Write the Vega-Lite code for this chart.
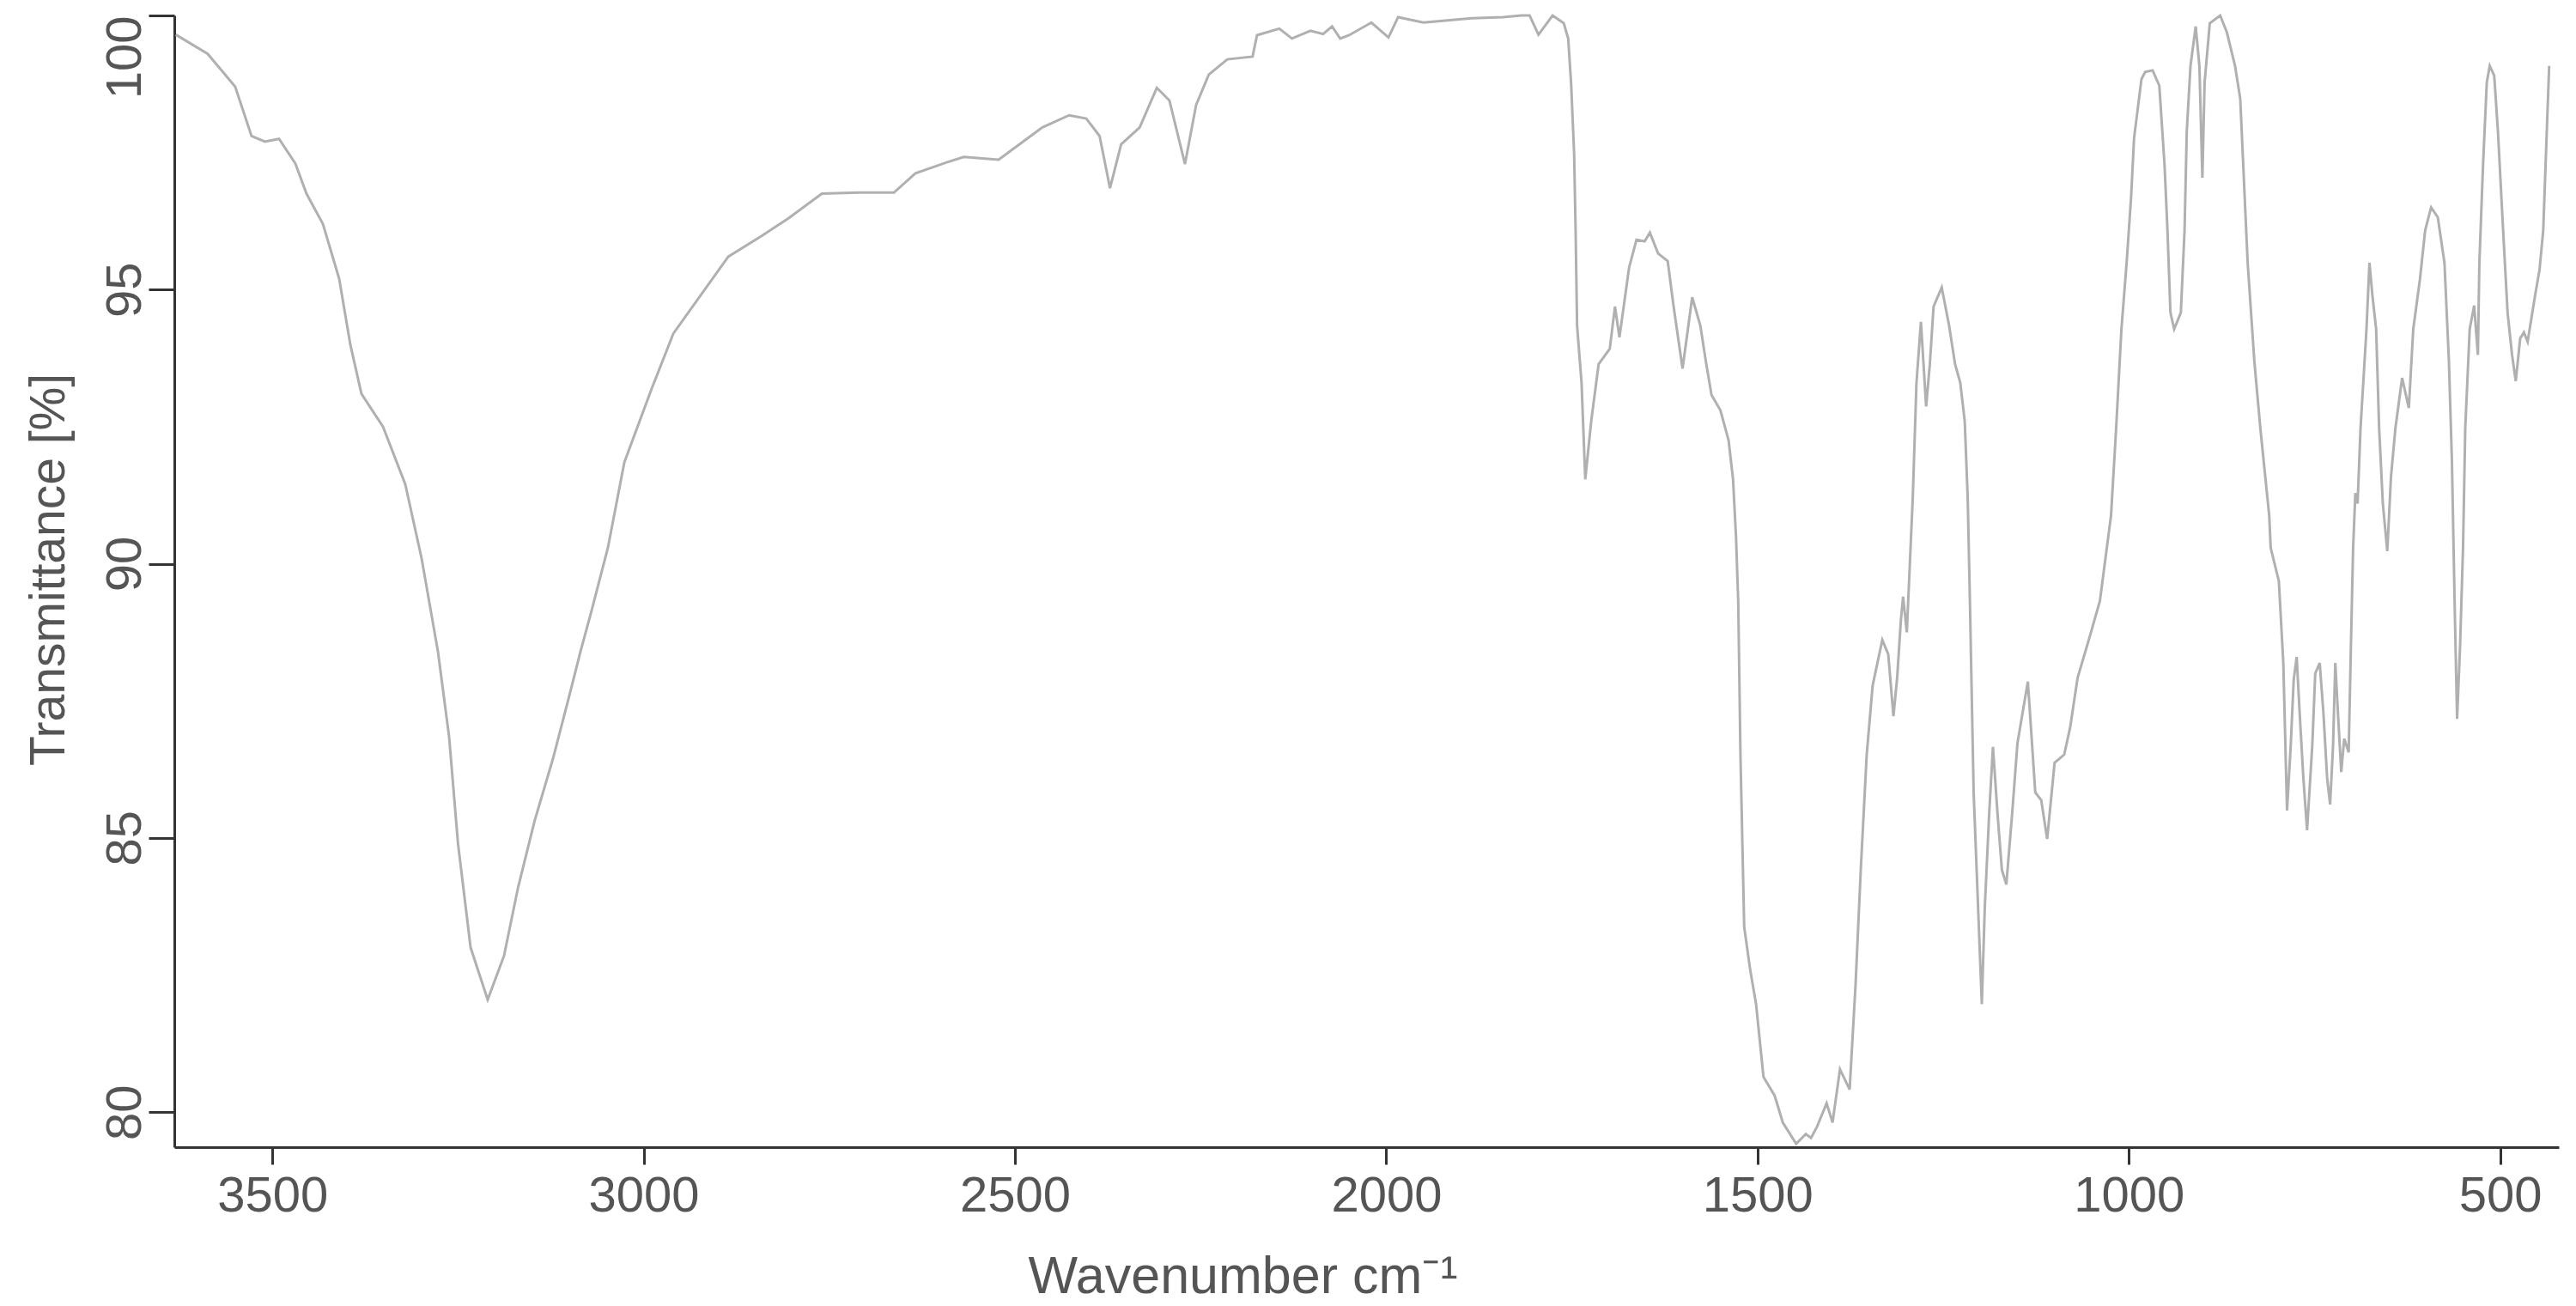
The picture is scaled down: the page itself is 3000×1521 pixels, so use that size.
{
  "$schema": "https://vega.github.io/schema/vega-lite/v6.json",
  "width": 2777,
  "height": 1318,
  "autosize": {"type": "none"},
  "padding": {"left": 203, "top": 18, "right": 20, "bottom": 185},
  "background": "white",
  "config": {"view": {"stroke": null}, "font": "Liberation Sans"},
  "data": {
    "values": [
      {"wavenumber": 3630, "transmittance": 99.65},
      {"wavenumber": 3587, "transmittance": 99.3},
      {"wavenumber": 3550, "transmittance": 98.7},
      {"wavenumber": 3528, "transmittance": 97.8},
      {"wavenumber": 3510, "transmittance": 97.7},
      {"wavenumber": 3491, "transmittance": 97.75},
      {"wavenumber": 3469, "transmittance": 97.3},
      {"wavenumber": 3454, "transmittance": 96.75},
      {"wavenumber": 3432, "transmittance": 96.2},
      {"wavenumber": 3410, "transmittance": 95.2},
      {"wavenumber": 3395, "transmittance": 94.0},
      {"wavenumber": 3380, "transmittance": 93.1},
      {"wavenumber": 3351, "transmittance": 92.5},
      {"wavenumber": 3321, "transmittance": 91.45},
      {"wavenumber": 3299, "transmittance": 90.1},
      {"wavenumber": 3277, "transmittance": 88.4},
      {"wavenumber": 3262, "transmittance": 86.85},
      {"wavenumber": 3250, "transmittance": 84.9},
      {"wavenumber": 3233, "transmittance": 83.0},
      {"wavenumber": 3210, "transmittance": 82.05},
      {"wavenumber": 3188, "transmittance": 82.85},
      {"wavenumber": 3169, "transmittance": 84.1},
      {"wavenumber": 3147, "transmittance": 85.3},
      {"wavenumber": 3122, "transmittance": 86.45},
      {"wavenumber": 3100, "transmittance": 87.6},
      {"wavenumber": 3085, "transmittance": 88.4},
      {"wavenumber": 3070, "transmittance": 89.15},
      {"wavenumber": 3048, "transmittance": 90.3},
      {"wavenumber": 3026, "transmittance": 91.85},
      {"wavenumber": 2989, "transmittance": 93.2},
      {"wavenumber": 2960, "transmittance": 94.2},
      {"wavenumber": 2923, "transmittance": 94.9},
      {"wavenumber": 2886, "transmittance": 95.6},
      {"wavenumber": 2842, "transmittance": 95.97},
      {"wavenumber": 2805, "transmittance": 96.3},
      {"wavenumber": 2760, "transmittance": 96.75},
      {"wavenumber": 2710, "transmittance": 96.77},
      {"wavenumber": 2663, "transmittance": 96.77},
      {"wavenumber": 2634, "transmittance": 97.12},
      {"wavenumber": 2592, "transmittance": 97.32},
      {"wavenumber": 2569, "transmittance": 97.42},
      {"wavenumber": 2522, "transmittance": 97.37},
      {"wavenumber": 2486, "transmittance": 97.73},
      {"wavenumber": 2463, "transmittance": 97.96},
      {"wavenumber": 2427, "transmittance": 98.18},
      {"wavenumber": 2404, "transmittance": 98.12},
      {"wavenumber": 2386, "transmittance": 97.8},
      {"wavenumber": 2372, "transmittance": 96.85},
      {"wavenumber": 2357, "transmittance": 97.65},
      {"wavenumber": 2332, "transmittance": 97.96},
      {"wavenumber": 2309, "transmittance": 98.68},
      {"wavenumber": 2292, "transmittance": 98.45},
      {"wavenumber": 2271, "transmittance": 97.29},
      {"wavenumber": 2256, "transmittance": 98.37},
      {"wavenumber": 2239, "transmittance": 98.92},
      {"wavenumber": 2214, "transmittance": 99.2},
      {"wavenumber": 2180, "transmittance": 99.25},
      {"wavenumber": 2174, "transmittance": 99.64},
      {"wavenumber": 2144, "transmittance": 99.76},
      {"wavenumber": 2127, "transmittance": 99.58},
      {"wavenumber": 2102, "transmittance": 99.72},
      {"wavenumber": 2085, "transmittance": 99.66},
      {"wavenumber": 2073, "transmittance": 99.8},
      {"wavenumber": 2062, "transmittance": 99.58},
      {"wavenumber": 2050, "transmittance": 99.64},
      {"wavenumber": 2020, "transmittance": 99.87},
      {"wavenumber": 1997, "transmittance": 99.6},
      {"wavenumber": 1984, "transmittance": 99.97},
      {"wavenumber": 1950, "transmittance": 99.87},
      {"wavenumber": 1885, "transmittance": 99.95},
      {"wavenumber": 1843, "transmittance": 99.97},
      {"wavenumber": 1818, "transmittance": 100},
      {"wavenumber": 1807, "transmittance": 100},
      {"wavenumber": 1795, "transmittance": 99.65},
      {"wavenumber": 1776, "transmittance": 100},
      {"wavenumber": 1761, "transmittance": 99.86},
      {"wavenumber": 1755, "transmittance": 99.58},
      {"wavenumber": 1751, "transmittance": 98.75},
      {"wavenumber": 1747, "transmittance": 97.48},
      {"wavenumber": 1745, "transmittance": 96.08},
      {"wavenumber": 1743, "transmittance": 94.34},
      {"wavenumber": 1737, "transmittance": 93.3},
      {"wavenumber": 1732, "transmittance": 91.54},
      {"wavenumber": 1724, "transmittance": 92.6},
      {"wavenumber": 1714, "transmittance": 93.64},
      {"wavenumber": 1699, "transmittance": 93.92},
      {"wavenumber": 1692, "transmittance": 94.69},
      {"wavenumber": 1686, "transmittance": 94.13},
      {"wavenumber": 1673, "transmittance": 95.4},
      {"wavenumber": 1663, "transmittance": 95.91},
      {"wavenumber": 1652, "transmittance": 95.88},
      {"wavenumber": 1645, "transmittance": 96.04},
      {"wavenumber": 1634, "transmittance": 95.66},
      {"wavenumber": 1621, "transmittance": 95.52},
      {"wavenumber": 1613, "transmittance": 94.69},
      {"wavenumber": 1601, "transmittance": 93.56},
      {"wavenumber": 1588, "transmittance": 94.86},
      {"wavenumber": 1577, "transmittance": 94.34},
      {"wavenumber": 1569, "transmittance": 93.64},
      {"wavenumber": 1562, "transmittance": 93.08},
      {"wavenumber": 1550, "transmittance": 92.8},
      {"wavenumber": 1539, "transmittance": 92.25},
      {"wavenumber": 1533, "transmittance": 91.54},
      {"wavenumber": 1529, "transmittance": 90.49},
      {"wavenumber": 1526, "transmittance": 89.3},
      {"wavenumber": 1523, "transmittance": 86.5},
      {"wavenumber": 1518, "transmittance": 83.38},
      {"wavenumber": 1510, "transmittance": 82.6},
      {"wavenumber": 1502, "transmittance": 81.97},
      {"wavenumber": 1492, "transmittance": 80.64},
      {"wavenumber": 1477, "transmittance": 80.3},
      {"wavenumber": 1466, "transmittance": 79.81},
      {"wavenumber": 1448, "transmittance": 79.42},
      {"wavenumber": 1435, "transmittance": 79.6},
      {"wavenumber": 1428, "transmittance": 79.53},
      {"wavenumber": 1420, "transmittance": 79.73},
      {"wavenumber": 1407, "transmittance": 80.16},
      {"wavenumber": 1399, "transmittance": 79.81},
      {"wavenumber": 1389, "transmittance": 80.78},
      {"wavenumber": 1376, "transmittance": 80.41},
      {"wavenumber": 1368, "transmittance": 82.33},
      {"wavenumber": 1361, "transmittance": 84.42},
      {"wavenumber": 1353, "transmittance": 86.52},
      {"wavenumber": 1345, "transmittance": 87.78},
      {"wavenumber": 1332, "transmittance": 88.61},
      {"wavenumber": 1324, "transmittance": 88.35},
      {"wavenumber": 1317, "transmittance": 87.22},
      {"wavenumber": 1312, "transmittance": 87.92},
      {"wavenumber": 1307, "transmittance": 88.97},
      {"wavenumber": 1304, "transmittance": 89.4},
      {"wavenumber": 1299, "transmittance": 88.75},
      {"wavenumber": 1291, "transmittance": 91.2},
      {"wavenumber": 1286, "transmittance": 93.3},
      {"wavenumber": 1280, "transmittance": 94.41},
      {"wavenumber": 1273, "transmittance": 92.87},
      {"wavenumber": 1268, "transmittance": 93.64},
      {"wavenumber": 1263, "transmittance": 94.69},
      {"wavenumber": 1252, "transmittance": 95.04},
      {"wavenumber": 1242, "transmittance": 94.34},
      {"wavenumber": 1234, "transmittance": 93.64},
      {"wavenumber": 1227, "transmittance": 93.3},
      {"wavenumber": 1221, "transmittance": 92.6},
      {"wavenumber": 1217, "transmittance": 91.2},
      {"wavenumber": 1214, "transmittance": 89.3},
      {"wavenumber": 1212, "transmittance": 87.9},
      {"wavenumber": 1209, "transmittance": 85.83},
      {"wavenumber": 1203, "transmittance": 83.73},
      {"wavenumber": 1198, "transmittance": 81.97},
      {"wavenumber": 1194, "transmittance": 83.73},
      {"wavenumber": 1188, "transmittance": 85.47},
      {"wavenumber": 1183, "transmittance": 86.66},
      {"wavenumber": 1177, "transmittance": 85.47},
      {"wavenumber": 1171, "transmittance": 84.42},
      {"wavenumber": 1165, "transmittance": 84.15},
      {"wavenumber": 1157, "transmittance": 85.47},
      {"wavenumber": 1150, "transmittance": 86.73},
      {"wavenumber": 1136, "transmittance": 87.85},
      {"wavenumber": 1126, "transmittance": 85.83},
      {"wavenumber": 1118, "transmittance": 85.69},
      {"wavenumber": 1110, "transmittance": 84.98},
      {"wavenumber": 1100, "transmittance": 86.37},
      {"wavenumber": 1087, "transmittance": 86.52},
      {"wavenumber": 1079, "transmittance": 87.02},
      {"wavenumber": 1069, "transmittance": 87.92},
      {"wavenumber": 1054, "transmittance": 88.61},
      {"wavenumber": 1039, "transmittance": 89.32},
      {"wavenumber": 1024, "transmittance": 90.88},
      {"wavenumber": 1017, "transmittance": 92.5},
      {"wavenumber": 1010, "transmittance": 94.28},
      {"wavenumber": 1003, "transmittance": 95.49},
      {"wavenumber": 997, "transmittance": 96.68},
      {"wavenumber": 993, "transmittance": 97.76},
      {"wavenumber": 983, "transmittance": 98.84},
      {"wavenumber": 978, "transmittance": 98.97},
      {"wavenumber": 968, "transmittance": 99.0},
      {"wavenumber": 959, "transmittance": 98.72},
      {"wavenumber": 952, "transmittance": 97.29},
      {"wavenumber": 948, "transmittance": 96.08},
      {"wavenumber": 944, "transmittance": 94.58},
      {"wavenumber": 939, "transmittance": 94.28},
      {"wavenumber": 930, "transmittance": 94.58},
      {"wavenumber": 925, "transmittance": 96.08},
      {"wavenumber": 922, "transmittance": 97.89},
      {"wavenumber": 917, "transmittance": 99.08},
      {"wavenumber": 910, "transmittance": 99.8},
      {"wavenumber": 905, "transmittance": 99.08},
      {"wavenumber": 901, "transmittance": 97.04},
      {"wavenumber": 898, "transmittance": 98.78},
      {"wavenumber": 891, "transmittance": 99.86},
      {"wavenumber": 877, "transmittance": 100},
      {"wavenumber": 868, "transmittance": 99.69},
      {"wavenumber": 857, "transmittance": 99.08},
      {"wavenumber": 850, "transmittance": 98.48},
      {"wavenumber": 844, "transmittance": 96.68},
      {"wavenumber": 840, "transmittance": 95.49},
      {"wavenumber": 831, "transmittance": 93.69},
      {"wavenumber": 823, "transmittance": 92.48},
      {"wavenumber": 811, "transmittance": 90.88},
      {"wavenumber": 809, "transmittance": 90.29},
      {"wavenumber": 798, "transmittance": 89.68},
      {"wavenumber": 792, "transmittance": 88.19},
      {"wavenumber": 787, "transmittance": 85.5},
      {"wavenumber": 782, "transmittance": 86.69},
      {"wavenumber": 778, "transmittance": 87.89},
      {"wavenumber": 774, "transmittance": 88.3},
      {"wavenumber": 770, "transmittance": 87.28},
      {"wavenumber": 765, "transmittance": 86.09},
      {"wavenumber": 760, "transmittance": 85.14},
      {"wavenumber": 753, "transmittance": 86.69},
      {"wavenumber": 749, "transmittance": 88.0},
      {"wavenumber": 743, "transmittance": 88.19},
      {"wavenumber": 738, "transmittance": 87.28},
      {"wavenumber": 733, "transmittance": 86.09},
      {"wavenumber": 729, "transmittance": 85.61},
      {"wavenumber": 725, "transmittance": 86.69},
      {"wavenumber": 722, "transmittance": 88.19},
      {"wavenumber": 718, "transmittance": 87.17},
      {"wavenumber": 714, "transmittance": 86.2},
      {"wavenumber": 710, "transmittance": 86.81},
      {"wavenumber": 704, "transmittance": 86.56},
      {"wavenumber": 701, "transmittance": 88.49},
      {"wavenumber": 698, "transmittance": 90.29},
      {"wavenumber": 695, "transmittance": 91.29},
      {"wavenumber": 692, "transmittance": 91.1},
      {"wavenumber": 688, "transmittance": 92.48},
      {"wavenumber": 680, "transmittance": 94.28},
      {"wavenumber": 676, "transmittance": 95.49},
      {"wavenumber": 672, "transmittance": 94.89},
      {"wavenumber": 667, "transmittance": 94.28},
      {"wavenumber": 663, "transmittance": 92.48},
      {"wavenumber": 658, "transmittance": 91.1},
      {"wavenumber": 652, "transmittance": 90.23},
      {"wavenumber": 647, "transmittance": 91.59},
      {"wavenumber": 641, "transmittance": 92.48},
      {"wavenumber": 632, "transmittance": 93.39},
      {"wavenumber": 623, "transmittance": 92.84},
      {"wavenumber": 617, "transmittance": 94.28},
      {"wavenumber": 608, "transmittance": 95.19},
      {"wavenumber": 601, "transmittance": 96.08},
      {"wavenumber": 593, "transmittance": 96.5},
      {"wavenumber": 584, "transmittance": 96.32},
      {"wavenumber": 575, "transmittance": 95.49},
      {"wavenumber": 569, "transmittance": 93.69},
      {"wavenumber": 565, "transmittance": 91.89},
      {"wavenumber": 561, "transmittance": 89.08},
      {"wavenumber": 558, "transmittance": 87.17},
      {"wavenumber": 554, "transmittance": 88.49},
      {"wavenumber": 550, "transmittance": 90.29},
      {"wavenumber": 547, "transmittance": 92.48},
      {"wavenumber": 541, "transmittance": 94.28},
      {"wavenumber": 535, "transmittance": 94.71},
      {"wavenumber": 530, "transmittance": 93.81},
      {"wavenumber": 528, "transmittance": 95.49},
      {"wavenumber": 523, "transmittance": 97.29},
      {"wavenumber": 518, "transmittance": 98.78},
      {"wavenumber": 514, "transmittance": 99.08},
      {"wavenumber": 508, "transmittance": 98.9},
      {"wavenumber": 503, "transmittance": 97.89},
      {"wavenumber": 496, "transmittance": 96.08},
      {"wavenumber": 490, "transmittance": 94.58},
      {"wavenumber": 484, "transmittance": 93.81},
      {"wavenumber": 479, "transmittance": 93.33},
      {"wavenumber": 473, "transmittance": 94.11},
      {"wavenumber": 468, "transmittance": 94.22},
      {"wavenumber": 463, "transmittance": 94.05},
      {"wavenumber": 453, "transmittance": 94.89},
      {"wavenumber": 447, "transmittance": 95.36},
      {"wavenumber": 442, "transmittance": 96.08},
      {"wavenumber": 438, "transmittance": 97.59},
      {"wavenumber": 434, "transmittance": 99.08}
    ]
  },
  "mark": {"type": "line", "color": "#b0b0b0", "strokeWidth": 3, "interpolate": "linear"},
  "encoding": {
    "x": {
      "field": "wavenumber",
      "type": "quantitative",
      "scale": {"domain": [421, 3632], "reverse": true, "nice": false, "zero": false},
      "axis": {
        "title": "Wavenumber cm⁻¹",
        "values": [3500, 3000, 2500, 2000, 1500, 1000, 500],
        "format": "d",
        "grid": false,
        "domainColor": "#333333",
        "domainWidth": 3,
        "tickColor": "#333333",
        "tickWidth": 3,
        "tickSize": 20,
        "labelFontSize": 58,
        "labelColor": "#555555",
        "labelPadding": 8,
        "labelFlush": false,
        "labelOverlap": false,
        "titleFontSize": 61,
        "titleColor": "#555555",
        "titleFontWeight": "normal",
        "titleX": 1244,
        "titleY": 169,
        "titleAlign": "center",
        "titleBaseline": "alphabetic"
      }
    },
    "y": {
      "field": "transmittance",
      "type": "quantitative",
      "scale": {"domain": [79.36, 100], "nice": false, "zero": false},
      "axis": {
        "title": "Transmittance [%]",
        "values": [80, 85, 90, 95, 100],
        "format": "d",
        "grid": false,
        "domainColor": "#333333",
        "domainWidth": 3,
        "tickColor": "#333333",
        "tickWidth": 3,
        "tickSize": 30,
        "labelFontSize": 58,
        "labelColor": "#555555",
        "labelAngle": -90,
        "labelAlign": {"condition": {"test": "datum.value === 100", "value": "right"}, "value": "center"},
        "labelBaseline": "alphabetic",
        "labelPadding": 10,
        "labelFlush": false,
        "labelOverlap": false,
        "titleFontSize": 57,
        "titleColor": "#555555",
        "titleFontWeight": "normal",
        "titleAngle": -90,
        "titleX": -129,
        "titleY": 645,
        "titleAlign": "center",
        "titleBaseline": "alphabetic"
      }
    }
  }
}
